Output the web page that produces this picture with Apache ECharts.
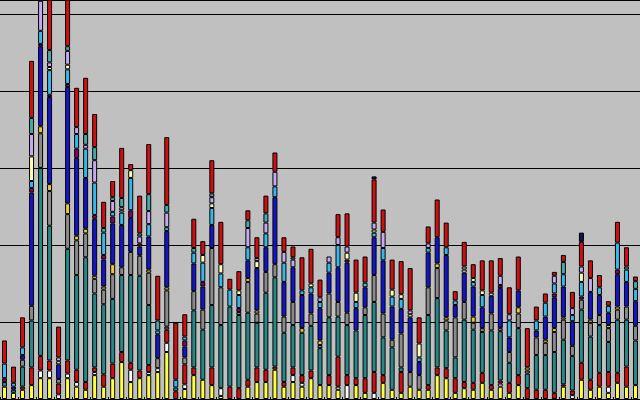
<!DOCTYPE html>
<html><head><meta charset="utf-8">
<script src="https://cdn.jsdelivr.net/npm/echarts@6/dist/echarts.min.js"></script>
<style>html,body{margin:0;padding:0;background:#c0c0c0}#c{width:640px;height:400px}</style>
</head><body><div id="c"></div>
<script>
const categories = Array.from({length: 71}, (_, i) => String(i + 1));

const yellow = [1.6,0.8,1.2,1.8,2.7,2.7,0,2.7,1.6,1.2,3.1,1.6,2.7,4.8,2.2,2.7,3.1,3.5,6.1,0,1.3,3.1,2.5,1.8,0.4,0,0,1.6,2.2,2.2,3.8,1.6,2.2,1.6,2.7,1.8,1.8,1.2,0,1.8,0.8,0,2.1,1.2,0.8,1.6,1.2,1.2,3.1,2.7,0.8,1.4,1.2,2.1,1.2,1.6,0.8,1.8,0,0,0,0,1.6,0,2.5,1.2,1.6,0.8,2.1,1.6,1.8];
const white = [0,0,0,0,1.0,1.0,0.6,0.6,0.6,0,0.4,0,0,0,1.6,0,0.4,0.5,1.2,0,0.6,0,0,0,1.0,0,0,0,0,0,0,0,0.9,0.5,0,0,0,0.4,1.8,0,0,0.8,0,0,0,0,0,0,0,0,0,0,0,0,0,0.4,0,0,0,0,0,0,0,0.5,0,0,0,0.8,0,0,0];
const redLow = [0,0,0.4,2.3,1.9,1.3,1.4,1.7,1.6,1.0,0.6,1.6,1.9,1.3,0.9,1.0,0.9,0,1.7,1.0,2.6,1.0,0,2.3,0,1.6,1.4,0.9,1.9,1.6,0.4,0.6,1.0,1.0,1.0,0,1.3,3.9,1.3,0.9,1.9,2.7,1.0,0,2.7,0,0,0.6,1.0,1.3,1.9,0.8,0.9,1.3,0.6,0.4,1.3,1.3,1.4,1.2,1.2,0.8,0.3,0.6,2.2,1.3,1.8,1.9,1.3,2.6,0];
const teal = [0.6,0.4,2.6,6.1,24.4,17.5,0,14.5,12.3,16.2,9.6,9.1,8.4,10.0,11.4,12.3,7.8,0,0.4,0.5,0,7.4,6.5,8.1,8.2,10.4,9.5,8.7,5.8,10.0,11.6,6.4,5.5,5.5,5.8,4.8,7.5,5.2,6.5,6.2,8.2,9.1,4.9,5.5,0.6,0,0,9.1,9.0,4.9,2.7,8.1,6.9,5.3,7.1,6.4,2.6,6.1,1.9,4.5,4.5,5.3,5.8,4.5,6.9,5.6,6.2,3.9,6.9,6.1,5.8];
const grey = [0,0,0.9,1.9,4.5,4.5,0.6,4.5,4.5,3.1,1.9,1.9,3.2,1.0,3.0,2.6,4.2,1.3,4.7,0,0.9,2.5,2.6,7.4,4.9,0,0.4,4.0,1.2,2.7,1.7,2.1,3.0,0,1.6,0.4,3.1,1.9,1.6,0,1.0,3.5,3.1,1.0,4.4,1.9,1.9,3.6,3.9,1.3,5.2,2.3,0.9,0.5,2.2,0.4,1.4,1.9,0.4,2.3,1.6,2.6,2.6,1.3,1.3,1.8,1.3,1.8,1.3,1.7,1.9];
const gold = [0,0,0,0,0.9,0.9,0,1.4,0.6,0.6,0.4,0.4,1.3,0,0,0,0.4,0,0.4,0,0,0,0,0,0,0,0,0.5,0.4,0,0,0,0,0.6,0,0.6,0,0,0,0,0,0,0,0,0,0,0,0,0.6,0.4,0,0,0.8,0,0,0,0,0.8,0.4,0,0.4,0.5,0.3,0,0,0.4,0,0.4,0.4,0,0];
const blue = [0,0.4,0.6,14.7,10.4,11.3,1.9,15.1,10.1,6.6,7.4,3.5,5.3,5.5,4.4,1.2,4.3,3.1,7.3,0,1.4,3.6,3.0,3.0,0,0,0,2.3,5.5,3.2,8.7,4.5,4.5,4.3,2.6,4.2,2.7,4.5,6.5,2.9,2.6,4.9,6.9,4.3,3.2,7.1,1.7,4.5,3.4,8.1,1.6,3.8,3.9,2.7,2.3,5.2,1.9,2.2,0,0.9,3.0,4.0,4.0,3.2,0,3.6,2.6,1.6,4.2,3.2,3.2];
const purple = [0.5,0,0,0.6,0.3,0.3,0,0.4,1.2,0,0.5,0.6,0.9,0,1.0,0.4,0,0,0,0,0.8,0,0.6,0,0,0,0.5,0,0,0,0,0,0,0,0,0,0,0,0.4,0,0,0,0,0,0,0,0,0,0,0,0,0,0,0,0,0.4,0,0,0,0,0,0.5,0,0,0.4,0,0,0,0.6,0,0];
const cyan = [1.9,0.5,1.0,0.9,1.7,3.2,0,1.9,1.9,3.8,4.2,2.9,0.6,1.6,4.2,0,1.6,0.5,0.5,1.0,0.5,1.4,2.5,2.2,1.8,2.2,1.7,1.7,0,1.8,1.4,2.5,0,0.6,0.8,0.8,1.3,2.9,0,0.8,0.6,0.6,1.6,1.3,1.3,0,0.6,0.6,0,1.0,0.6,0,0.6,1.6,0,0,2.2,0,0,1.3,1.8,1.3,1.6,0.8,1.9,0,1.0,0.9,3.5,1.6,1.6];
const lightYellow = [0,0,0,3.2,0,0.4,0.4,0.6,0,0,0,0,0,0.3,1.0,0,0,0,0,0,0,0,1.0,0.6,1.2,0,0.6,0,0.9,0,0,0,0,0,0.5,0,0,0,0.9,1.2,0,0.4,0,0.9,0.6,0.4,1.8,0,0,0,0,0.4,0.5,0.6,0.4,0,0,0,0,0,0,0,0,0,1.2,0,0,0,0,0,0];
const lavender = [0,0,0,2.9,3.9,0.6,0.5,1.8,0.9,0.5,2.9,0,1.4,0.4,0,0.9,1.7,0,1.9,0,0,0,0,0.8,0,0,0,2.5,0.4,1.4,1.9,1.4,1.0,0,0,0.6,0.8,1.0,0.8,0,0,0.9,2.1,0,0,0.5,0,0.6,0,0,0,0.4,0,0,0,1.2,0.8,0,0,0,0,1.0,0,0.9,0.8,1.8,0,0,0,0,0];
const greenTeal = [0,0,0,2.1,0,1.6,0,0.6,0,1.4,1.7,0.6,0.5,1.2,0,0.4,2.2,1.3,1.0,0,0,0.6,0,0.5,0,0,0,1.0,0,1.2,0,0,0.3,0,0,0,0,0,0,0,0,0,0,0,0,0,0,0,0,0,0,0,0,0,0,0,0,0,0,0,0,0,1.6,0,0,0,0,0,0,0.4,1.0];
const redTop = [3.0,2.1,3.9,7.4,5.2,7.8,4.0,6.5,5.1,7.3,4.3,3.4,2.1,6.5,0.8,4.9,6.5,5.8,8.8,7.4,2.9,3.8,1.8,4.3,5.5,1.4,2.5,1.3,2.7,2.3,2.5,1.9,1.4,4.3,4.5,2.3,0,3.0,4.3,4.3,3.4,5.6,2.9,3.9,4.3,5.5,3.4,2.2,4.9,3.2,1.2,3.2,1.8,3.9,4.2,2.3,3.5,4.4,5.1,1.8,1.2,0.5,0.9,2.1,3.2,2.3,1.6,0.6,2.7,2.5,0.6];
const darkTop = [0,0,0,0,0,0,0,0,0,0,0,0,0,0,0,0,0,0,0,0,0,0,0,0,0,0,0,0,0,0,0,0,0,0,0,0,0,0,0,0,0,0.4,0,0,0,0,0,0,0,0,0,0,0,0,0,0,0,0,0,0,0,0,0,0,1.2,0,0,0,0,0,0];

const seriesDefs = [
  ['Yellow', yellow, '#ffff40'],
  ['White', white, '#ffffff'],
  ['Red (low)', redLow, '#d01010'],
  ['Teal', teal, '#288888'],
  ['Grey', grey, '#8a8a8a'],
  ['Gold', gold, '#e8c838'],
  ['Blue', blue, '#1414c8'],
  ['Purple', purple, '#880068'],
  ['Cyan', cyan, '#38b8e8'],
  ['Light yellow', lightYellow, '#ffffb8'],
  ['Lavender', lavender, '#c8a8f0'],
  ['Green teal', greenTeal, '#48a8a8'],
  ['Red (top)', redTop, '#d01010'],
  ['Dark', darkTop, '#101848']
];

const chart = echarts.init(document.getElementById('c'), null, {renderer: 'canvas'});
chart.setOption({
  animation: false,
  backgroundColor: '#c0c0c0',
  grid: {left: -1.5, right: -3, top: 0, bottom: 1},
  xAxis: {
    type: 'category',
    data: categories,
    boundaryGap: true,
    axisLine: {show: true, lineStyle: {color: '#000', width: 1}},
    axisTick: {show: true, inside: true, length: 2, lineStyle: {color: '#000'}},
    axisLabel: {show: false},
    splitLine: {show: false}
  },
  yAxis: {
    type: 'value',
    min: 0, max: 51.8, interval: 10,
    axisLine: {show: false},
    axisTick: {show: false},
    axisLabel: {show: false},
    splitLine: {show: true, lineStyle: {color: '#000', width: 1}}
  },
  series: seriesDefs.map(([name, data, color]) => ({
    name, type: 'bar', stack: 'all',
    data: data.map(v => v > 0 ? v : '-'),
    barWidth: 5,
    clip: true,
    itemStyle: {color, borderColor: '#000', borderWidth: 1}
  }))
});
</script></body></html>
